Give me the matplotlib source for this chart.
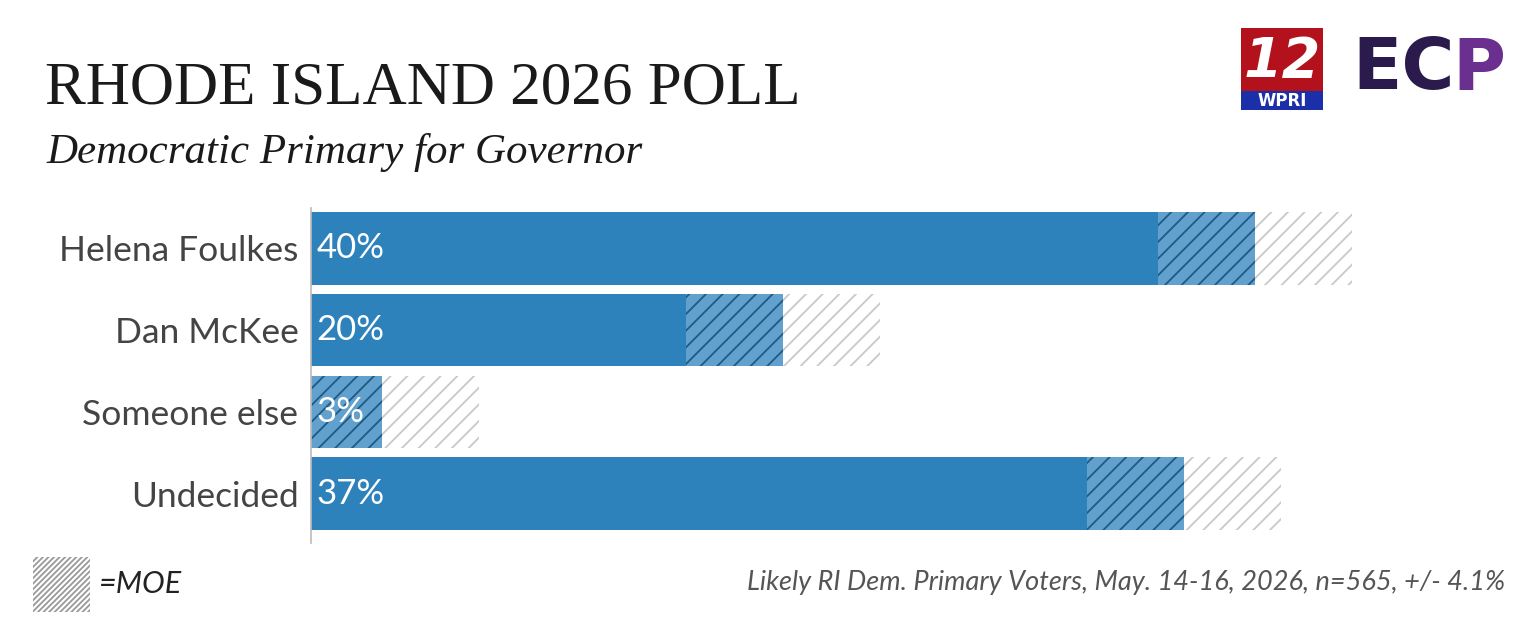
import matplotlib.pyplot as plt
from matplotlib.patches import Rectangle

plt.rcParams['hatch.linewidth'] = 1.3

candidates = ['Helena Foulkes', 'Dan McKee', 'Someone else', 'Undecided']
values = [40, 20, 3, 37]
moe = 4.1

blue = '#2E82BB'
blue_light = '#62A1CD'
hatch_dark = '#1D5A86'
hatch_gray = '#C9C9C9'
label_font = 'Lato'

fig = plt.figure(figsize=(15.36, 6.37), dpi=100)
ax = fig.add_axes([311 / 1536, 1 - 543 / 637, 1180 / 1536, 335 / 637])

ypos = list(range(len(candidates)))
h = 0.89
for y, v in zip(ypos, values):
    lo = max(v - moe, 0)
    ax.barh(y, lo, height=h, color=blue, linewidth=0)
    ax.barh(y, v - lo, left=lo, height=h, color=blue_light, edgecolor=hatch_dark,
            hatch='//', linewidth=0)
    ax.barh(y, moe, left=v, height=h, color='white', edgecolor=hatch_gray,
            hatch='//', linewidth=0)
    ax.text(0.22, y, f'{v}%', color='white', fontsize=25, family=label_font,
            va='center', ha='left')

ax.set_xlim(0, 50)
ax.set_ylim(3.6, -0.49)
ax.set_yticks(ypos)
ax.set_yticklabels(candidates, fontsize=25.5, family=label_font, color='#444444')
ax.tick_params(axis='y', length=0, pad=9)
ax.set_xticks([])
for s in ['top', 'right', 'bottom']:
    ax.spines[s].set_visible(False)
ax.spines['left'].set_color('#BBBBBB')
ax.spines['left'].set_linewidth(1.2)

# titles
fig.text(45 / 1536, 1 - 104 / 637, 'RHODE ISLAND 2026 POLL', fontsize=44,
         family='Liberation Serif', color='#1a1a1a')
fig.text(46 / 1536, 1 - 163 / 637, 'Democratic Primary for Governor', fontsize=31,
         family='Liberation Serif', style='italic', color='#1a1a1a')

# legend
fig.patches.append(Rectangle((33 / 1536, 1 - 612 / 637), 57 / 1536, 55 / 637,
                             transform=fig.transFigure, facecolor='white',
                             edgecolor='#999999', hatch='//////', linewidth=0))
fig.text(98 / 1536, 1 - 593 / 637, '=MOE', fontsize=22, family=label_font,
         style='italic', color='#222222')
fig.text(1505 / 1536, 1 - 590 / 637,
         'Likely RI Dem. Primary Voters, May. 14-16, 2026, n=565, +/- 4.1%',
         fontsize=19.5, family=label_font, style='italic', color='#555555', ha='right')

# logos (approximation)
fig.patches.append(Rectangle((1241 / 1536, 1 - 92 / 637), 82 / 1536, 64 / 637,
                             transform=fig.transFigure, facecolor='#B3121C', linewidth=0))
fig.patches.append(Rectangle((1241 / 1536, 1 - 110 / 637), 82 / 1536, 19 / 637,
                             transform=fig.transFigure, facecolor='#1B2FA8', linewidth=0))
fig.text(1282 / 1536, 1 - 62 / 637, '12', fontsize=40, family='DejaVu Sans',
         weight='bold', style='italic', color='white', ha='center', va='center')
fig.text(1282 / 1536, 1 - 101 / 637, 'WPRI', fontsize=12, family='DejaVu Sans',
         weight='bold', color='white', ha='center', va='center')
fig.text(1352 / 1536, 1 - 70 / 637, 'EC', fontsize=52, family='DejaVu Sans',
         weight='bold', color='#2B1B4C', va='center')
fig.text(1452 / 1536, 1 - 70 / 637, 'P', fontsize=52, family='DejaVu Sans',
         weight='bold', color='#6B2F8F', va='center')

fig.savefig('out.png', dpi=100, facecolor='white')
